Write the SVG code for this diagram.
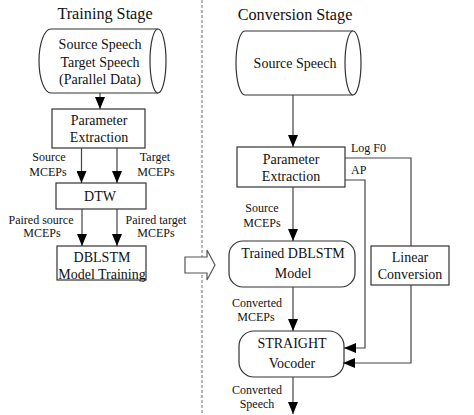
<svg xmlns="http://www.w3.org/2000/svg" width="474" height="415" viewBox="0 0 474 415">
<defs>
<style>
.box{fill:#fff;stroke:#333;stroke-width:1.2}
.t{font-family:"Liberation Serif","Times New Roman",serif;font-size:14px;fill:#111;text-anchor:middle}
.lb{font-family:"Liberation Serif","Times New Roman",serif;font-size:12px;fill:#111;text-anchor:middle}
.ls{font-family:"Liberation Serif","Times New Roman",serif;font-size:12px;fill:#111;text-anchor:start}
.ti{font-family:"Liberation Serif","Times New Roman",serif;font-size:16.2px;fill:#111;text-anchor:middle}
.c{fill:none;stroke:#444;stroke-width:1.2}
</style>
<marker id="ah" markerUnits="userSpaceOnUse" markerWidth="12" markerHeight="10" refX="12" refY="5" orient="auto">
<path d="M0,0 L12,5 L0,10 Z" fill="#000"/>
</marker>
</defs>
<rect width="474" height="415" fill="#fff"/>
<line x1="202" y1="0" x2="202" y2="415" stroke="#888" stroke-width="1.2" stroke-dasharray="3,2"/>
<text class="ti" x="105" y="19">Training Stage</text>
<text class="ti" x="295" y="20">Conversion Stage</text>

<g id="train-data">
<path class="box" d="M51,29 L158,29 A8,32 0 0 1 158,93 L51,93 A12,32 0 0 1 51,29 Z"/>
<path class="box" d="M158,29 A8,32 0 0 0 158,93" fill="none"/>
<text class="t" x="100" y="49">Source Speech</text>
<text class="t" x="100" y="67">Target Speech</text>
<text class="t" x="100" y="84">(Parallel Data)</text>
</g>
<g id="train-pe">
<rect class="box" x="52" y="109" width="93" height="39"/>
<text class="t" x="99" y="125">Parameter</text>
<text class="t" x="99" y="142">Extraction</text>
</g>
<g id="dtw">
<rect class="box" x="56" y="183" width="90" height="26"/>
<text class="t" x="100" y="201">DTW</text>
</g>
<g id="dblstm-train">
<rect class="box" x="57" y="246" width="89" height="34"/>
<text class="t" x="102" y="262">DBLSTM</text>
<text class="t" x="102" y="279">Model Training</text>
</g>
<g id="stage-arrow">
<polygon points="185,257 207,257 207,250 215,265 207,280 207,273 185,273" fill="#fff" stroke="#555" stroke-width="1.2"/>
</g>

<g id="conv-src">
<path class="box" d="M245,31 L353,31 A8,32 0 0 1 353,95 L245,95 A9,32 0 0 1 245,31 Z"/>
<path class="box" d="M353,31 A8,32 0 0 0 353,95" fill="none"/>
<text class="t" x="295" y="68">Source Speech</text>
</g>
<g id="conv-pe">
<rect class="box" x="237" y="147" width="108" height="40"/>
<text class="t" x="291" y="164">Parameter</text>
<text class="t" x="291" y="181">Extraction</text>
</g>
<g id="trained">
<rect class="box" x="229" y="241" width="126" height="46" rx="14" ry="14"/>
<text class="t" x="293" y="258">Trained DBLSTM</text>
<text class="t" x="293" y="278">Model</text>
</g>
<g id="linear">
<rect class="box" x="371" y="246" width="78" height="39"/>
<text class="t" x="410" y="262">Linear</text>
<text class="t" x="410" y="279">Conversion</text>
</g>
<g id="straight">
<rect class="box" x="239" y="331" width="105" height="46" rx="15" ry="15"/>
<text class="t" x="292" y="348">STRAIGHT</text>
<text class="t" x="292" y="368">Vocoder</text>
</g>

<g id="connectors">
<path class="c" d="M100,93 V109" marker-end="url(#ah)"/>
<path class="c" d="M81.5,148 V183" marker-end="url(#ah)"/>
<path class="c" d="M117,148 V183" marker-end="url(#ah)"/>
<path class="c" d="M82,209 V246" marker-end="url(#ah)"/>
<path class="c" d="M117,209 V246" marker-end="url(#ah)"/>
<path class="c" d="M293,95 V147" marker-end="url(#ah)"/>
<path class="c" d="M293,187 V241" marker-end="url(#ah)"/>
<path class="c" d="M293,287 V331" marker-end="url(#ah)"/>
<path class="c" d="M293,377 V414" marker-end="url(#ah)"/>
<path class="c" d="M345,158 H411 V246"/>
<path class="c" d="M411,285 V363 H343" marker-end="url(#ah)"/>
<path class="c" d="M345,180 H365 V348 H344" marker-end="url(#ah)"/>
<text class="lb" x="49" y="161">Source</text>
<text class="lb" x="48" y="176">MCEPs</text>
<text class="lb" x="155" y="161">Target</text>
<text class="lb" x="156" y="176">MCEPs</text>
<text class="lb" x="41" y="224">Paired source</text>
<text class="lb" x="42" y="237">MCEPs</text>
<text class="lb" x="156" y="224">Paired target</text>
<text class="lb" x="156" y="237">MCEPs</text>
<text class="lb" x="262" y="212">Source</text>
<text class="lb" x="262" y="227">MCEPs</text>
<text class="lb" x="257" y="307">Converted</text>
<text class="lb" x="256" y="321">MCEPs</text>
<text class="lb" x="257" y="394">Converted</text>
<text class="lb" x="257" y="408">Speech</text>
<text class="ls" x="351" y="152">Log F0</text>
<text class="ls" x="351" y="174">AP</text>
</g>
</svg>
